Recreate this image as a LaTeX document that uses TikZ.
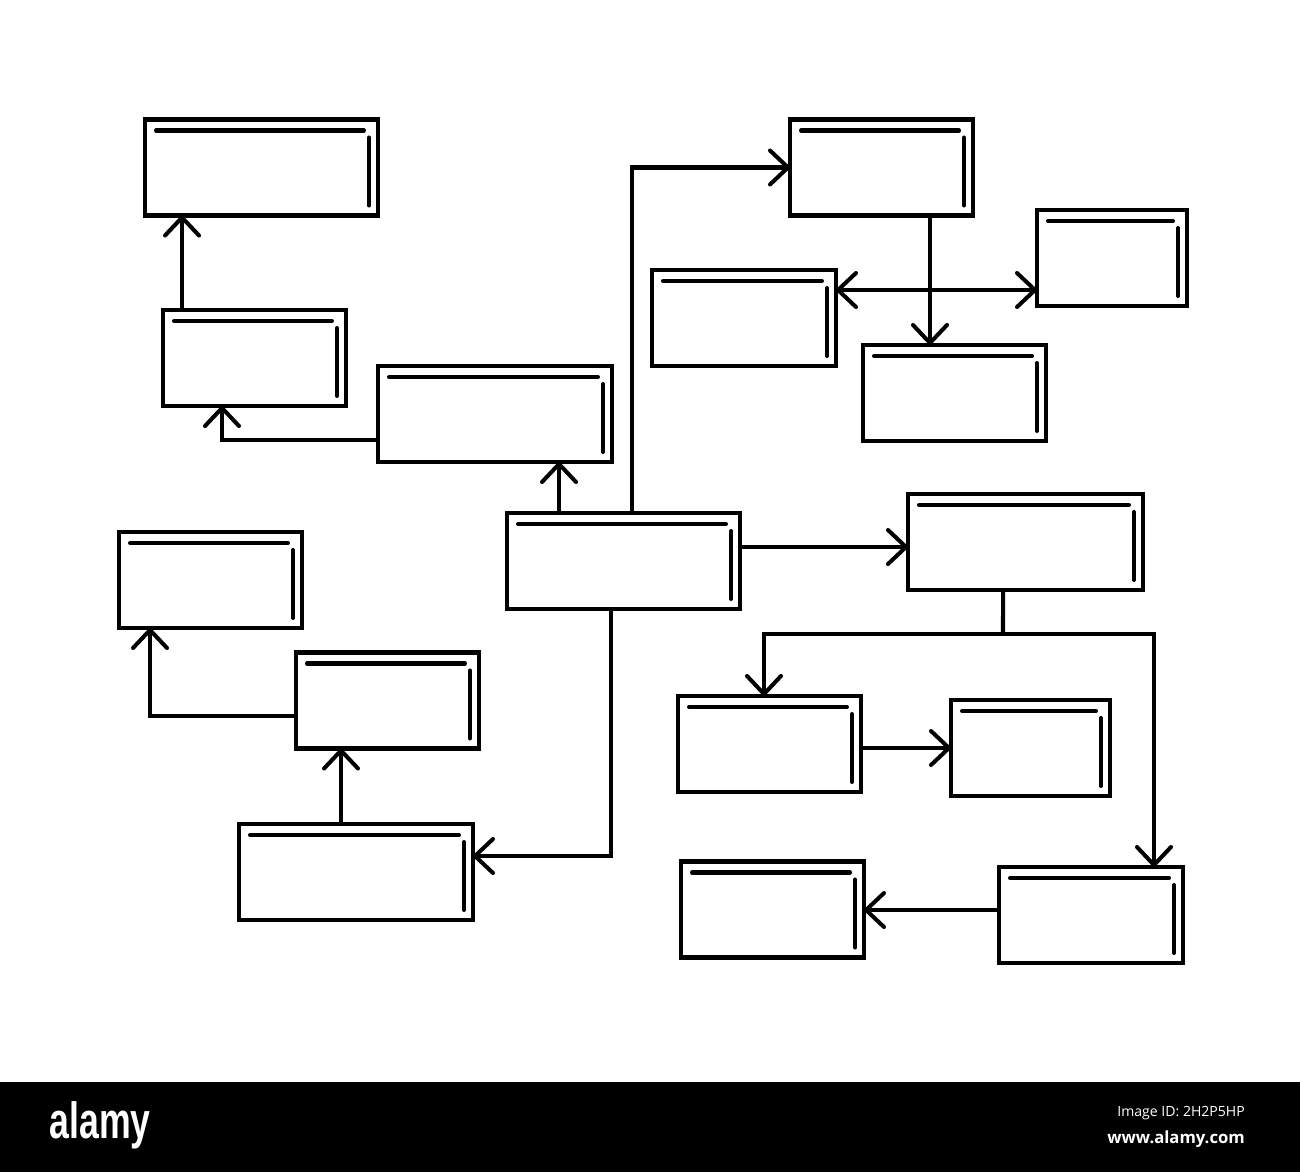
\documentclass[tikz,border=0pt]{standalone}
\usepackage{fontspec}
\usetikzlibrary{arrows.meta}
\newfontfamily\markfont{Liberation Sans}
\newfontfamily\idfont{Open Sans}
\tikzset{
    chartbox/.style={draw, line width=2.3pt, outer sep=0pt, inner sep=0pt,
        minimum width=#1, minimum height=1.92cm,
        path picture={
            \draw[line width=2.3pt, line cap=round]
                ([xshift=0.22cm, yshift=-0.22cm]path picture bounding box.north west)
                -- ([xshift=-0.28cm, yshift=-0.22cm]path picture bounding box.north east);
            \draw[line width=2.3pt, line cap=round]
                ([xshift=-0.18cm, yshift=-0.36cm]path picture bounding box.north east)
                -- ([xshift=-0.18cm, yshift=0.2cm]path picture bounding box.south east);
        }},
    link/.style={line width=2.3pt, -{Straight Barb[length=0.36cm, width=0.68cm, round]}},
    link2/.style={line width=2.3pt, {Straight Barb[length=0.36cm, width=0.68cm, round]}-{Straight Barb[length=0.36cm, width=0.68cm, round]}}
}
\begin{document}
\begin{tikzpicture}[x=0.02cm, y=-0.02cm]
        \useasboundingbox (0,0) rectangle (1300,1172);
        \node[chartbox=4.66cm] at (261.5,167.5)   (top)     {};
        \node[chartbox=3.66cm] at (254.5,358)     (upl)     {};
        \node[chartbox=4.68cm] at (495,414)       (midl)    {};
        \node[chartbox=4.66cm] at (623.5,561)     (core)    {};
        \node[chartbox=3.66cm] at (881.5,167.5)   (topr)    {};
        \node[chartbox=3.0cm]  at (1112,258)      (far)     {};
        \node[chartbox=3.68cm] at (744,318)       (side)    {};
        \node[chartbox=3.66cm] at (954.5,393)     (under)   {};
        \node[chartbox=4.7cm]  at (1025.5,542)    (hub)     {};
        \node[chartbox=3.66cm] at (210.5,580)     (lowl)    {};
        \node[chartbox=3.66cm] at (387.5,700.5)   (step2)   {};
        \node[chartbox=4.68cm] at (356,872)       (base)    {};
        \node[chartbox=3.66cm] at (769.5,744)     (leafa)   {};
        \node[chartbox=3.18cm] at (1030.5,748)    (leafb)   {};
        \node[chartbox=3.66cm] at (772.5,909.5)   (leafd)   {};
        \node[chartbox=3.68cm] at (1091,915)      (leafc)   {};
        \coordinate (split) at (1003,634);

        \draw[link] ([xshift=-1.45cm]upl.north) -- ([xshift=-1.45cm]upl.north |- top.south);
        \draw[link] ([yshift=-0.52cm]midl.west) -| ([xshift=-0.65cm]upl.south);
        \draw[link] ([xshift=-1.29cm]core.north) -- ([xshift=-1.29cm]core.north |- midl.south);
        \draw[link] ([xshift=0.17cm]core.north) |- (topr.west);
        \draw[link] ([xshift=0.97cm]topr.south) -- ([xshift=0.97cm]topr.south |- under.north);
        \draw[link2] ([yshift=0.56cm]side.east) -- ([yshift=0.56cm]side.east -| far.west);
        \draw[link] ([yshift=0.28cm]core.east) -- ([yshift=0.28cm]core.east -| hub.west);
        \draw[line width=2.3pt] ([xshift=-0.45cm]hub.south) -- (split);
        \draw[link] (split) -| ([xshift=-0.11cm]leafa.north);
        \draw[link] (split) -| ([xshift=1.26cm]leafc.north);
        \draw[link] ([yshift=-0.08cm]leafa.east) -- ([yshift=-0.08cm]leafa.east -| leafb.west);
        \draw[link] ([yshift=0.1cm]leafc.west) -- ([yshift=0.1cm]leafc.west -| leafd.east);
        \draw[link] ([xshift=-0.25cm]core.south) |- ([yshift=0.32cm]base.east);
        \draw[link] ([xshift=-0.3cm]base.north) -- ([xshift=-0.3cm]base.north |- step2.south);
        \draw[link] ([yshift=-0.31cm]step2.west) -| ([xshift=-1.21cm]lowl.south);

        \fill (0,1082) rectangle (1300,1172);
        \node[text=white, font=\markfont\bfseries\fontsize{29pt}{30pt}\selectfont] at (100,1125) (logo) {\scalebox{0.7}[1]{alamy}};
        \node[text=white, anchor=east, font=\idfont\fontsize{8pt}{9pt}\selectfont] at (1251,1113) (imgid) {Image ID: 2H2P5HP};
        \node[text=white, anchor=east, font=\idfont\bfseries\fontsize{9.5pt}{10pt}\selectfont] at (1251,1139) (site) {www.alamy.com};
    \end{tikzpicture}
\end{document}
